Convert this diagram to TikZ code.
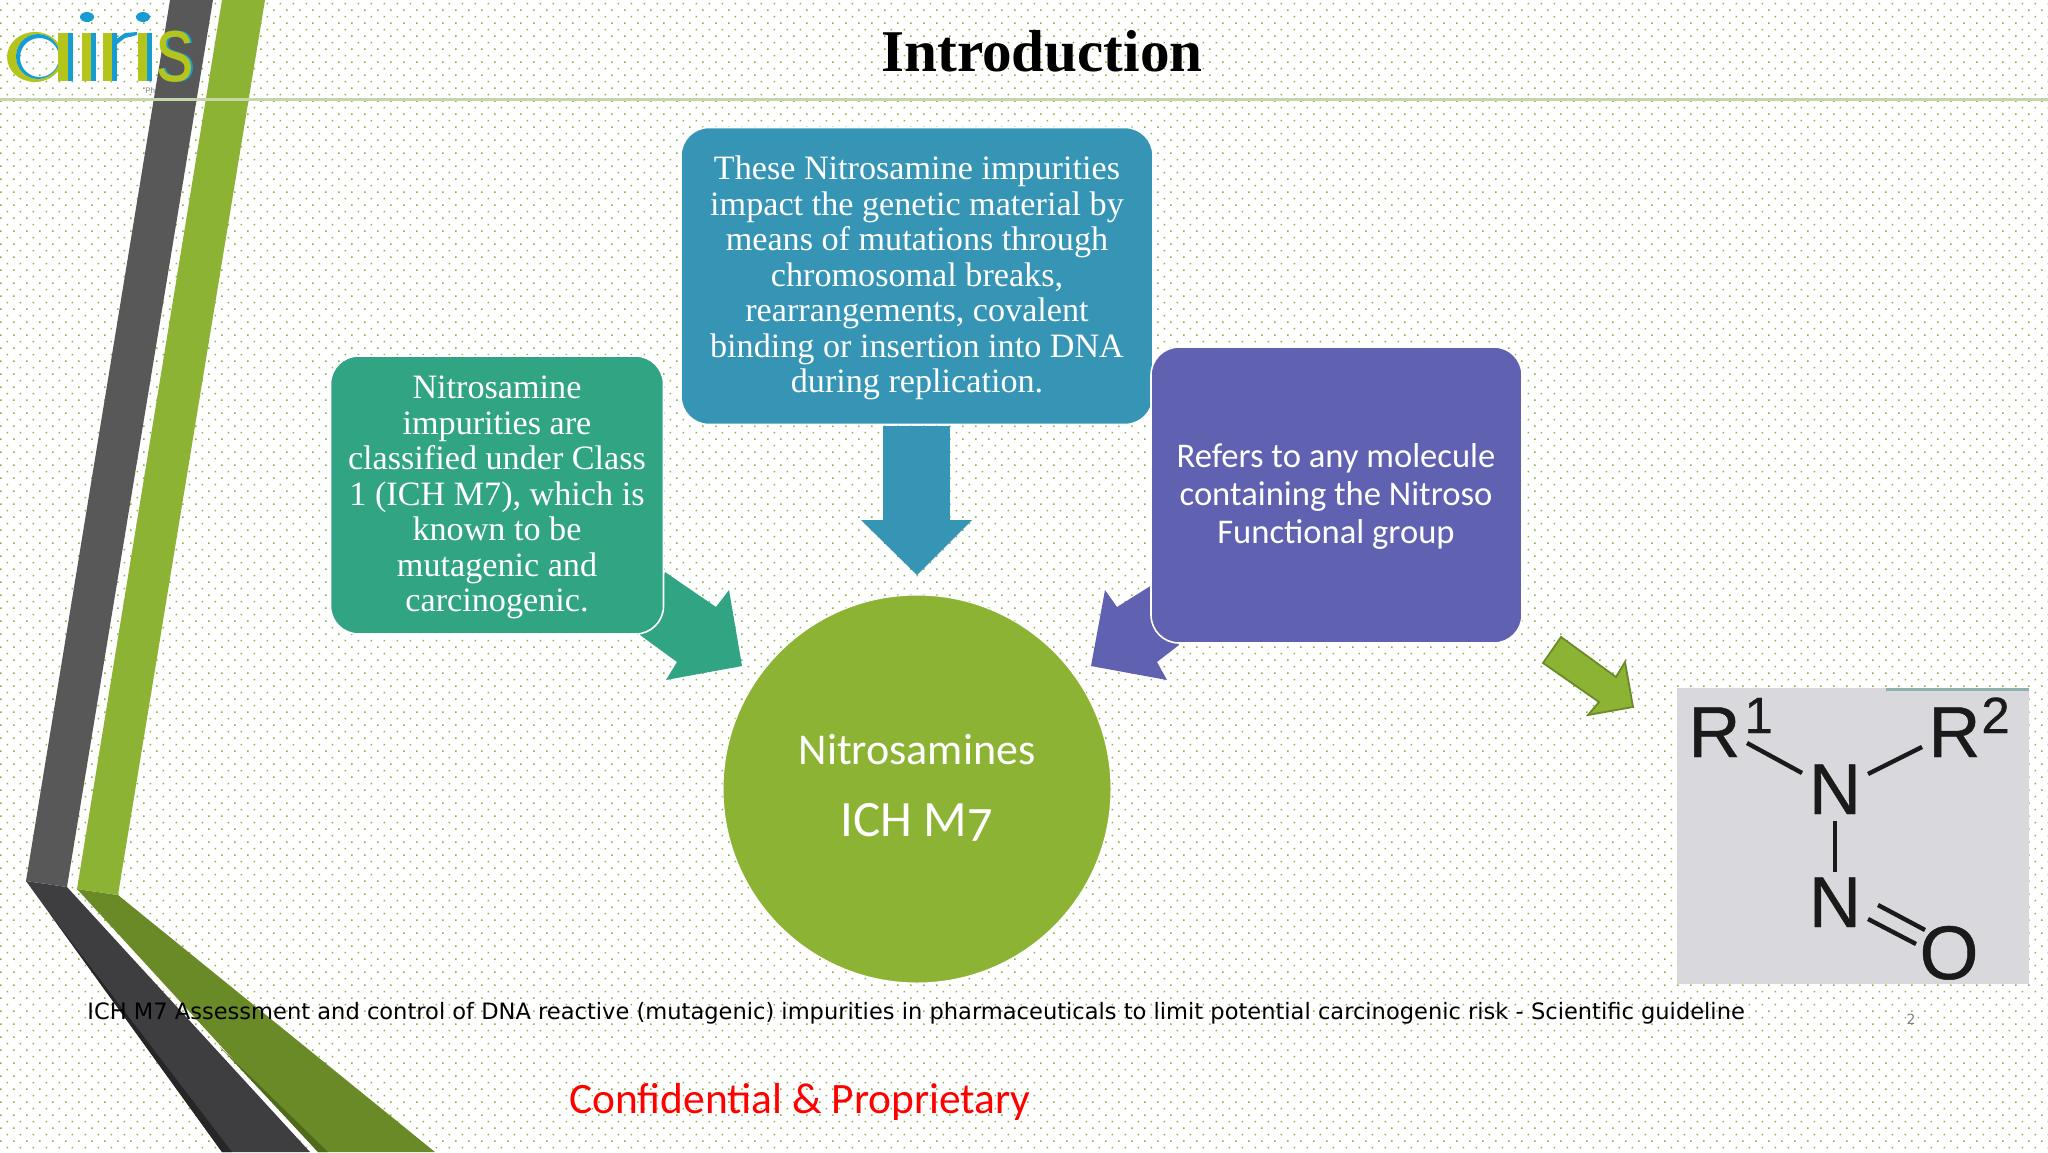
\documentclass[tikz,border=0pt]{standalone}
\usepackage{fontspec}
\usetikzlibrary{patterns}
\setmainfont{Liberation Serif}
\newfontfamily\corb[Numbers=OldStyle]{Carlito}
\newfontfamily\verd{DejaVu Sans}
\newfontfamily\arialf{Liberation Sans}
\newfontfamily\chemf[FakeBold=0.6]{Liberation Sans}
\definecolor{dotc}{HTML}{8FAE3A}
\definecolor{tealb}{HTML}{31A583}
\definecolor{blueb}{HTML}{3695B5}
\definecolor{purpb}{HTML}{6061B0}
\definecolor{limeb}{HTML}{8DB335}
\definecolor{darkg}{HTML}{585859}
\definecolor{darkh}{HTML}{3E3E40}
\definecolor{oliveb}{HTML}{6A8A28}
\definecolor{oliveh}{HTML}{4F6A1C}
\definecolor{logoy}{HTML}{B4C41A}
\definecolor{logob}{HTML}{159CD2}
\definecolor{imgbg}{HTML}{D9D9DD}
\definecolor{hline}{HTML}{C5D7A8}
\definecolor{chemc}{HTML}{1A1A1A}
\definecolor{stripc}{HTML}{8FB0AE}
\pgfdeclarepatternformonly{slidedots}{\pgfpointorigin}{\pgfqpoint{6.48pt}{6.48pt}}{\pgfqpoint{6.48pt}{6.48pt}}{
  \pgfpathrectangle{\pgfqpoint{0.12pt}{5.03pt}}{\pgfqpoint{0.75pt}{0.75pt}}
  \pgfpathrectangle{\pgfqpoint{3.36pt}{1.79pt}}{\pgfqpoint{0.75pt}{0.75pt}}
  \pgfusepath{fill}
}
\tikzset{
  boxn/.style={rounded corners=14pt, draw=white, line width=0.8pt, inner sep=0pt},
  boxt/.style={align=center, text=white, inner sep=0pt, font=\fontsize{17.08}{17.75}\selectfont},
  chem/.style={font=\chemf\fontsize{36}{36}\selectfont, inner sep=0pt, text=chemc},
  chemsup/.style={font=\chemf\fontsize{25.5}{25.5}\selectfont, inner sep=0pt, text=chemc},
  bond/.style={line width=2.2pt, chemc}
}
\begin{document}
\begin{tikzpicture}[x=0.5pt,y=-0.5pt]
\useasboundingbox (0,0) rectangle (2048,1152);
\fill[white] (0,0) rectangle (2048,1152);
\fill[pattern=slidedots,pattern color=dotc] (0,0) rectangle (2048,1152);
% ribbons
\fill[darkh] (26,881) -- (67,887) -- (310,1152) -- (222,1152) -- cycle;
\fill[black!85] (50,914) -- (222,1152) -- (232,1152) -- cycle;
\fill[oliveb] (77,889) -- (118,895) -- (435,1152) -- (318,1152) -- cycle;
\fill[oliveh] (220,1047) -- (318,1152) -- (328,1152) -- cycle;
\fill[darkg] (170,0) -- (213,0) -- (67,887) -- (26,881) -- cycle;
\fill[limeb] (222,0) -- (265,0) -- (118,895) -- (77,889) -- cycle;
% header line
\fill[hline] (0,98) rectangle (2048,101);
% logo
\fill[logoy,even odd rule] (35,57) ellipse (28 and 25) (38,56.5) ellipse (22 and 22.5);
\fill[logob,even odd rule] (38,56.5) ellipse (22 and 22.5) (39.5,57.5) ellipse (19.5 and 19.5);
\fill[logoy] (58,33) rectangle (68,81);
\fill[logob] (68,33) rectangle (73,81);
\fill[logoy] (82,33) rectangle (91,81);
\fill[logob] (91,33) rectangle (96,81);
\fill[logoy] (103,33) rectangle (112,81);
\fill[logob] (112,33) rectangle (117,81);
\fill[logob] (112,42) -- (125,33) -- (137,32) -- (137,35) -- (125,38) -- (112,48) -- cycle;
\fill[logoy] (138,33) rectangle (147,81);
\fill[logob] (147,33) rectangle (152,81);
\fill[logob] (87,17) ellipse (7 and 5);
\fill[logob] (143,17) ellipse (7 and 5);
\node[inner sep=0pt,text=logob,xscale=.8,anchor=base] (logosb) at (177.5,81) {\arialf\fontsize{47}{47}\selectfont s};
\node[inner sep=0pt,text=logoy,xscale=.8,anchor=base] (logos) at (175.5,81) {\arialf\fontsize{47}{47}\selectfont s};
\node[inner sep=0pt,text=gray,anchor=base west] (logop) at (145,93) {\arialf\fontsize{4}{4}\selectfont Ph};
% title
\node[inner sep=0pt,anchor=base,font=\bfseries\fontsize{29.6}{30}\selectfont] (title) at (1042,71.5) {Introduction};
% block arrows
\fill[tealb] (665,572) -- (716,607) -- (729,590) -- (742,666) -- (666,680) -- (677,662) -- (640,635) -- cycle;
\fill[blueb] (883,426) rectangle (950,522);
\fill[blueb] (861,520) -- (972,520) -- (917,575) -- cycle;
\fill[purpb] (1152,585) -- (1117,607) -- (1105,590) -- (1091,666) -- (1167,680) -- (1157,662) -- (1179,645) -- cycle;
\filldraw[fill=limeb,draw=oliveb,line width=0.9pt,line join=miter] (1561,637) -- (1543,663) -- (1599,702) -- (1588,715) -- (1633,707) -- (1625,662) -- (1616,677) -- cycle;
% boxes
\node[boxn,fill=tealb,minimum width=166.5pt,minimum height=139pt] (teal) at (497,495) {};
\node[boxt] (tealtxt) at (497,497.5) {Nitrosamine\\impurities are\\classified under Class\\1 (ICH M7), which is\\known to be\\mutagenic and\\carcinogenic.};
\node[boxn,fill=blueb,minimum width=236pt,minimum height=148.5pt] (blue) at (917,276) {};
\node[boxt] (bluetxt) at (917,278) {These Nitrosamine impurities\\impact the genetic material by\\means of mutations through\\chromosomal breaks,\\rearrangements, covalent\\binding or insertion into DNA\\during replication.};
\node[boxn,fill=purpb,minimum width=185.5pt,minimum height=148pt] (purp) at (1336.5,495) {};
\node[inner sep=0pt,align=center,text=white,font=\corb\fontsize{17.3}{19}\selectfont] (purptxt) at (1336,496.5) {Refers to any molecule\\containing the Nitroso\\Functional group};
\node[circle,fill=limeb,draw=white,line width=0.5pt,minimum size=194pt,inner sep=0pt] (circ) at (917,789) {};
\node[inner sep=0pt,anchor=base,text=white,font=\corb\fontsize{22}{22}\selectfont] (c1) at (917,764) {Nitrosamines};
\node[inner sep=0pt,anchor=base,text=white,font=\corb\fontsize{25.5}{27}\selectfont] (c2) at (917,836) {ICH M7};
% molecule picture
\fill[imgbg] (1677,688) rectangle (2029,984);
\fill[stripc] (1886,688) rectangle (2029,691);
\node[chem,anchor=base west] (r1) at (1688,757) {R};
\node[chemsup,anchor=base west] (s1) at (1744,733) {1};
\node[chem,anchor=base west] (r2) at (1928,757) {R};
\node[chemsup,anchor=base west] (s2) at (1981,733) {2};
\node[chem,anchor=base] (n1) at (1835,814) {N};
\node[chem,anchor=base] (n2) at (1835,927) {N};
\node[chem,anchor=base,font=\chemf\fontsize{38}{38}\selectfont] (ox) at (1949,979) {O};
\draw[bond] (1747,743) -- (1802,773);
\draw[bond] (1922,747) -- (1868,774);
\draw[bond] (1835,821) -- (1835,872);
\draw[bond] (1878,905) -- (1925,930);
\draw[bond] (1868,919) -- (1916,944);
% footer
\node[inner sep=0pt,anchor=base west,font=\verd\fontsize{11.28}{12}\selectfont] (foot) at (87,1019) {ICH M7 Assessment and control of DNA reactive (mutagenic) impurities in pharmaceuticals to limit potential carcinogenic risk - Scientific guideline};
\node[inner sep=0pt,text=gray,font=\verd\fontsize{7}{7}\selectfont] (pg) at (1911,1019) {2};
\node[inner sep=0pt,anchor=base west,text=red,font=\corb\fontsize{21.7}{22}\selectfont] (conf) at (569,1113) {Confidential \& Proprietary};
\end{tikzpicture}
\end{document}
